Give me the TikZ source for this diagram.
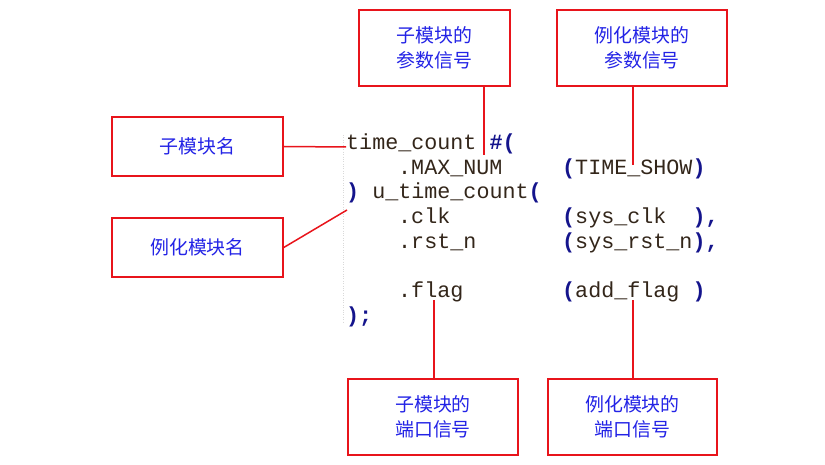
\documentclass[tikz,border=0pt]{standalone}
\usepackage{fontspec}
\setmainfont{Liberation Sans}
\setmonofont{Liberation Mono}
\newfontfamily\cjk{Noto Sans CJK SC}
\definecolor{boxred}{HTML}{E8141B}
\definecolor{lbl}{HTML}{2323E6}
\definecolor{idc}{HTML}{33261A}
\definecolor{pun}{HTML}{14148C}
\newcommand{\pn}[1]{\textcolor{pun}{\bfseries #1}}
\begin{document}
\begin{tikzpicture}[x=1bp,y=-1bp,
  lab/.style={draw=boxred,line width=1.5bp,fill=white,text=lbl,font=\cjk\fontsize{19}{25}\selectfont,align=center,inner sep=0pt},
  code/.style={anchor=base west,inner sep=0pt,text=idc,font=\ttfamily\fontsize{21.8}{24}\selectfont},
  con/.style={draw=boxred,line width=1.5bp}]
\useasboundingbox (0,0) rectangle (825,465);
\draw[gray!30,dotted] (343,135) -- (343,322);
% code
\node[code] (l1) at (346,150) {time\_count \pn{\#(}};
\node[code] (l2a) at (398,175) {.MAX\_NUM};
\node[code] (l2b) at (562,175) {\pn{(}TIME\_SHOW\pn{)}};
\node[code] (l3) at (346,199) {\pn{)} u\_time\_count\pn{(}};
\node[code] (l4a) at (398,224) {.clk};
\node[code] (l4b) at (562,224) {\pn{(}sys\_clk~~\pn{),}};
\node[code] (l5a) at (398,249) {.rst\_n};
\node[code] (l5b) at (562,249) {\pn{(}sys\_rst\_n\pn{),}};
\node[code] (l7a) at (398,298) {.flag};
\node[code] (l7b) at (562,298) {\pn{(}add\_flag \pn{)}};
\node[code] (l8) at (346,323) {\pn{);}};
% labels
\node[lab,minimum width=171bp,minimum height=59bp] (b1) at (197.5,146.5) {子模块名};
\node[lab,minimum width=171bp,minimum height=59bp] (b2) at (197.5,247.5) {例化模块名};
\node[lab,minimum width=151bp,minimum height=76bp] (b3) at (434.5,48) {子模块的\\参数信号};
\node[lab,minimum width=170bp,minimum height=76bp] (b4) at (642,48) {例化模块的\\参数信号};
\node[lab,minimum width=170bp,minimum height=76bp] (b5) at (433,417) {子模块的\\端口信号};
\node[lab,minimum width=169bp,minimum height=76bp] (b6) at (632.5,417) {例化模块的\\端口信号};
% connectors
\coordinate (c1) at (346,147);
\coordinate (c2) at (347,210);
\coordinate (c3) at (484,155);
\coordinate (c4) at (633,165);
\coordinate (c5) at (434,300);
\coordinate (c6) at (633,300);
\draw[con] (b1.east) -- (c1);
\draw[con] (b2.east) -- (c2);
\draw[con] (b3.south -| c3) -- (c3);
\draw[con] (b4.south -| c4) -- (c4);
\draw[con] (b5.north -| c5) -- (c5);
\draw[con] (b6.north -| c6) -- (c6);
\end{tikzpicture}
\end{document}
